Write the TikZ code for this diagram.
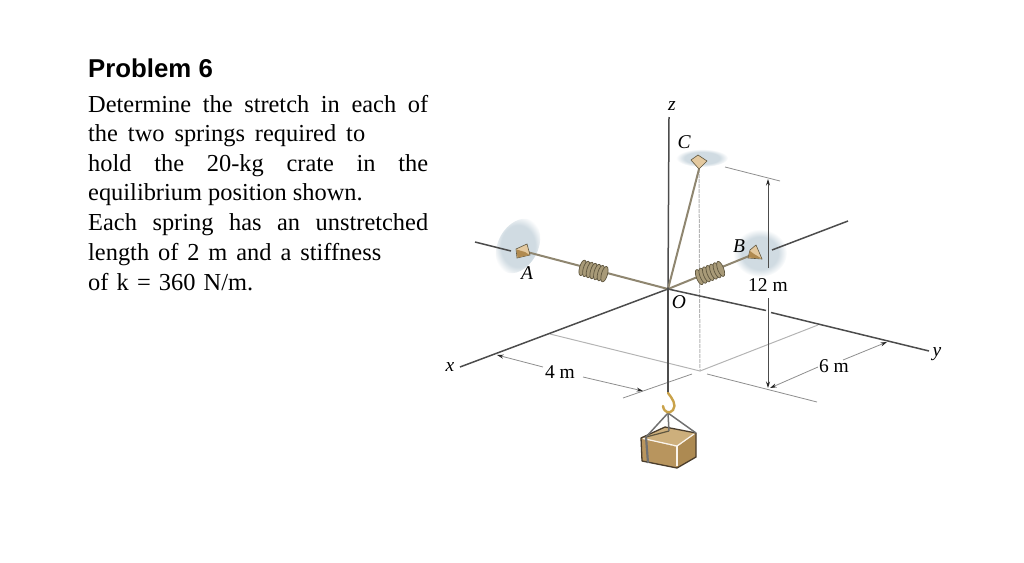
\documentclass[tikz,border=0pt]{standalone}
\usepackage{fontspec}
\setmainfont{Liberation Serif}
\newfontfamily\headfont{Liberation Sans}
\usetikzlibrary{arrows.meta}
\newcommand{\bodysize}{\fontsize{24.4}{28}\selectfont}
\newcommand{\lblsize}{\fontsize{19.5}{22}\selectfont}
\newcommand{\coilcount}{6}
\definecolor{axisgray}{HTML}{4C4C4C}
\definecolor{dimgray}{HTML}{8E8E8E}
\definecolor{floorgray}{HTML}{B4B4B4}
\definecolor{ropetan}{HTML}{8F8670}
\definecolor{coiltan}{HTML}{A89A78}
\definecolor{coildark}{HTML}{5F563F}
\definecolor{blobblue}{HTML}{D0DBE2}
\definecolor{anchortan}{HTML}{E4C99F}
\definecolor{anchordark}{HTML}{B08A50}
\definecolor{hookgold}{HTML}{C9A24A}
\definecolor{cratetop}{HTML}{CDAF7C}
\definecolor{crateleft}{HTML}{B8955E}
\definecolor{crateright}{HTML}{AD8A52}
\definecolor{cratedark}{HTML}{4A3D2C}
\pgfdeclareradialshading{blobshade}{\pgfpoint{0bp}{0bp}}{color(0bp)=(blobblue); color(17bp)=(blobblue); color(25bp)=(white); color(50bp)=(white)}
\tikzset{
  axisline/.style={axisgray, line width=1.5pt},
  ropeline/.style={ropetan, line width=2pt},
  dimline/.style={dimgray, line width=.8pt},
  dimarrow/.style={dimline, -{Stealth[length=6.5pt, width=4pt, black!85]}},
  floorline/.style={floorgray, line width=1pt},
  lbl/.style={inner sep=0pt, font=\lblsize},
  varlbl/.style={inner sep=0pt, font=\lblsize\itshape},
  anchorbit/.style={fill=anchortan, draw=coildark, line width=.6pt},
  coil/.style={fill=coiltan, draw=coildark, line width=.7pt},
  sling/.style={dimgray!80!black, line width=1.5pt}
}
\begin{document}
\begin{tikzpicture}[x=1pt,y=-1pt]
      \useasboundingbox (0,0) rectangle (1024,562);
      % text on the left
      \node (title) at (88,68) [anchor=west, inner sep=0pt, font=\headfont\bfseries\fontsize{25.8}{28}\selectfont] {Problem 6};
      \foreach \ypos/\txt [count=\n] in {
        112/{\makebox[340pt][s]{Determine the stretch in each of}},
        141/{\makebox[277pt][s]{the two springs required to}},
        171/{\makebox[340pt][s]{hold the 20-kg crate in the}},
        200/{equilibrium position shown.},
        230/{\makebox[340pt][s]{Each spring has an unstretched}},
        260/{\makebox[293pt][s]{length of 2 m and a stiffness}},
        290/{\makebox[165pt][s]{of k = 360 N/m.}}}
      {
        \node (line\n) at (88,\ypos) [anchor=base west, inner sep=0pt, font=\bodysize] {\txt};
      }
      % points
      \coordinate (O) at (668,289);
      \coordinate (A) at (527,252);
      \coordinate (B) at (754,254);
      \coordinate (C) at (699,169);
      \coordinate (ztop) at (669,117);
      \coordinate (zend) at (668,393);
      \coordinate (xend) at (460,367);
      \coordinate (yend) at (929,351);
      \coordinate (xback) at (475,242);
      \coordinate (xbackend) at (511,251);
      \coordinate (yback) at (772,250);
      \coordinate (ybackend) at (848,221);
      \coordinate (ygapa) at (766,310.5);
      \coordinate (ygapb) at (771,312.5);
      \coordinate (xfoot) at (550,334);
      \coordinate (yfoot) at (818,325);
      \coordinate (Cfoot) at (700,371);
      % shadows at the supports
      \shade[shading=blobshade, rotate around={62:(518,246)}] (518,246) ellipse (29 and 20);
      \shade[shading=blobshade] (702,158) ellipse (26 and 9);
      \shade[shading=blobshade] (760,253) ellipse (27 and 24);
      % floor lines
      \draw[floorline] (xfoot) to (Cfoot) to (yfoot);
      \draw[floorline, dash pattern=on 4pt off 1pt] (C) to (Cfoot);
      % dimensions
      \coordinate (ticka) at (725,167);
      \coordinate (tickb) at (780,181);
      \coordinate (tickc) at (707,374);
      \coordinate (tickd) at (817,402);
      \coordinate (ticke) at (692,374);
      \coordinate (tickf) at (623,398);
      \draw[dimline] (ticka) to (tickb);
      \draw[dimline] (tickc) to (tickd);
      \draw[dimline] (ticke) to (tickf);
      \node (len12) at (768,285) [lbl] {12 m};
      \node (len4) at (560,372) [lbl] {4 m};
      \node (len6) at (834,366) [lbl] {6 m};
      \coordinate (twelvetop) at (768,179);
      \coordinate (twelvea) at (768,268);
      \coordinate (twelveb) at (768,298);
      \coordinate (twelvebot) at (768,388);
      \coordinate (foura) at (497,355);
      \coordinate (fourb) at (543,367);
      \coordinate (fourc) at (583,377);
      \coordinate (fourd) at (643,391);
      \coordinate (sixa) at (770,388);
      \coordinate (sixb) at (818,367);
      \coordinate (sixc) at (843,360);
      \coordinate (sixd) at (887,342);
      \draw[dimarrow, black!70] (twelvea) to (twelvetop);
      \draw[dimarrow, black!70] (twelveb) to (twelvebot);
      \draw[dimarrow] (fourb) to (foura);
      \draw[dimarrow] (fourc) to (fourd);
      \draw[dimarrow] (sixb) to (sixa);
      \draw[dimarrow] (sixc) to (sixd);
      % axes
      \draw[axisline] (ztop) to (O);
      \draw[axisline] (O) to (zend);
      \draw[axisline] (O) to (xend);
      \draw[axisline] (O) to (ygapa);
      \draw[axisline] (ygapb) to (yend);
      \draw[axisline] (xback) to (xbackend);
      \draw[axisline] (yback) to (ybackend);
      % ropes
      \draw[ropeline] (A) to (O);
      \draw[ropeline] (B) to (O);
      \draw[ropeline] (C) to (O);
      % springs
      \begin{scope}[shift={(593.5,271)}, rotate=-16]
        \foreach \k in {0,...,\coilcount}
        {
          \draw[coil] (-11.4+3.8*\k,0) ellipse (3 and 8);
        }
      \end{scope}
      \begin{scope}[shift={(710,273)}, rotate=21]
        \foreach \k in {0,...,\coilcount}
        {
          \draw[coil] (-11.4+3.8*\k,0) ellipse (3 and 8);
        }
      \end{scope}
      % anchors
      \filldraw[anchorbit] (516,249) to (527,244) to (530,255) to (517,258) -- cycle;
      \fill[anchordark] (516.5,249.5) to (525,252) to (529.5,255) to (517.5,257.5) -- cycle;
      \filldraw[anchorbit] (691,160) to (698,155) to (707,161) to (699,169) -- cycle;
      \filldraw[anchorbit] (750,250) to (756,245) to (762,259) to (748,258) -- cycle;
      \fill[anchordark] (750,251) to (754,254) to (761.5,258.5) to (748.5,257.5) -- cycle;
      \node (hub) at (O) [circle, fill=axisgray, inner sep=1.4pt] {};
      % labels
      \node (zlbl) at (672,106) [varlbl] {z};
      \node (xlbl) at (450,367) [varlbl] {x};
      \node (ylbl) at (937,354) [varlbl] {y};
      \node (Albl) at (527,273) [varlbl] {A};
      \node (Blbl) at (739,246) [varlbl] {B};
      \node (Clbl) at (684,142) [varlbl] {C};
      \node (Olbl) at (679,302) [varlbl] {O};
      % crate
      \coordinate (ctl) at (641,438);
      \coordinate (ctb) at (665,427);
      \coordinate (ctr) at (696,433);
      \coordinate (ctf) at (677,447);
      \coordinate (cbl) at (642,461);
      \coordinate (cbf) at (677,468);
      \coordinate (cbr) at (696,457);
      \coordinate (hooklow) at (668,413);
      \fill[cratetop] (ctl) to (ctb) to (ctr) to (ctf) -- cycle;
      \fill[crateleft] (ctl) to (ctf) to (cbf) to (cbl) -- cycle;
      \fill[crateright] (ctf) to (ctr) to (cbr) to (cbf) -- cycle;
      \draw[white!80!anchortan, line width=1.2pt] (643,438.5) to (677,446) to (694,434);
      \draw[white!80!anchortan, line width=1.2pt] (677,446) to (677,466);
      \draw[cratedark, line width=1.3pt, line join=round] (ctl) to (ctb) to (ctr) to (cbr) to (cbf) to (cbl) -- cycle;
      \coordinate (strapa) at (646,437);
      \coordinate (strapb) at (648,463);
      \coordinate (strapc) at (669,431);
      \draw[sling, line width=2.2pt] (strapa) to (strapb);
      \draw[coildark, line width=1.2pt] (strapa) to (strapc);
      \draw[sling] (hooklow) to (strapa);
      \draw[sling] (hooklow) to (ctr);
      \draw[sling] (hooklow) to (strapc);
      % hook
      \draw[hookgold, line width=2.4pt, line cap=round] (zend) .. controls (672,398) and (677,405) .. (673,410) .. controls (670,414) and (664,413) .. (663,406);
\end{tikzpicture}
\end{document}
